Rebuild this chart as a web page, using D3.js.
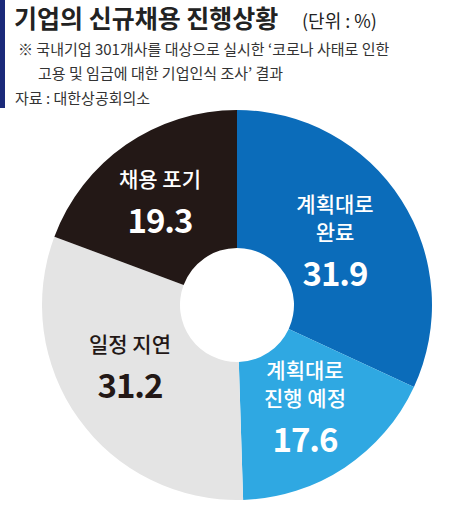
<!DOCTYPE html><html><head><meta charset="utf-8"><script src="https://cdn.jsdelivr.net/npm/d3@7"></script>
<style>body{margin:0;background:#fff}text{font-family:"Noto Sans CJK KR",sans-serif}</style></head><body>
<svg id="c" width="474" height="508"></svg>
<script>
const categories=[["계획대로","완료"],["계획대로","진행 예정"],["일정 지연"],["채용 포기"]];
const values=[31.9,17.6,31.2,19.3];
const colors=["#0b6cba","#2fa8e2","#e4e4e4","#231816"];
const textColors=["#fff","#fff","#231816","#fff"];
const labelPos=[[335,212],[305,378],[130,352],[160,187]];
const svg=d3.select("#c");
svg.append("rect").attr("x",0).attr("y",0).attr("width",5).attr("height",108).attr("fill","#1b2a7a");
svg.append("text").attr("x",14).attr("y",28).attr("font-size",25).attr("font-weight",700).attr("fill","#222").text("기업의 신규채용 진행상황");
svg.append("text").attr("x",302).attr("y",28).attr("font-size",18).attr("fill","#222").text("(단위 : %)");
svg.append("text").attr("x",18).attr("y",55).attr("font-size",15).attr("fill","#333").text("※ 국내기업 301개사를 대상으로 실시한 ‘코로나 사태로 인한");
svg.append("text").attr("x",38).attr("y",79).attr("font-size",15).attr("fill","#333").text("고용 및 임금에 대한 기업인식 조사’ 결과");
svg.append("text").attr("x",15).attr("y",104).attr("font-size",15).attr("fill","#333").text("자료 : 대한상공회의소");
const cx=237,cy=305;
const pie=d3.pie().sort(null)(values);
const arc=d3.arc().innerRadius(57).outerRadius(195);
const g=svg.append("g").attr("transform",`translate(${cx},${cy})`);
g.selectAll("path").data(pie).join("path").attr("d",arc).attr("fill",(d,i)=>colors[i]);
pie.forEach((d,i)=>{
  const [x,y]=labelPos[i];const lines=categories[i];
  lines.forEach((l,j)=>svg.append("text").attr("x",x).attr("y",y+j*28).attr("text-anchor","middle").attr("font-size",21).attr("font-weight",500).attr("fill",textColors[i]).text(l));
  svg.append("text").attr("x",x).attr("y",y+lines.length*28+18).attr("text-anchor","middle").attr("font-size",33).attr("font-weight",700).attr("letter-spacing",-1).attr("fill",textColors[i]).text(values[i]);
});
</script></body></html>
